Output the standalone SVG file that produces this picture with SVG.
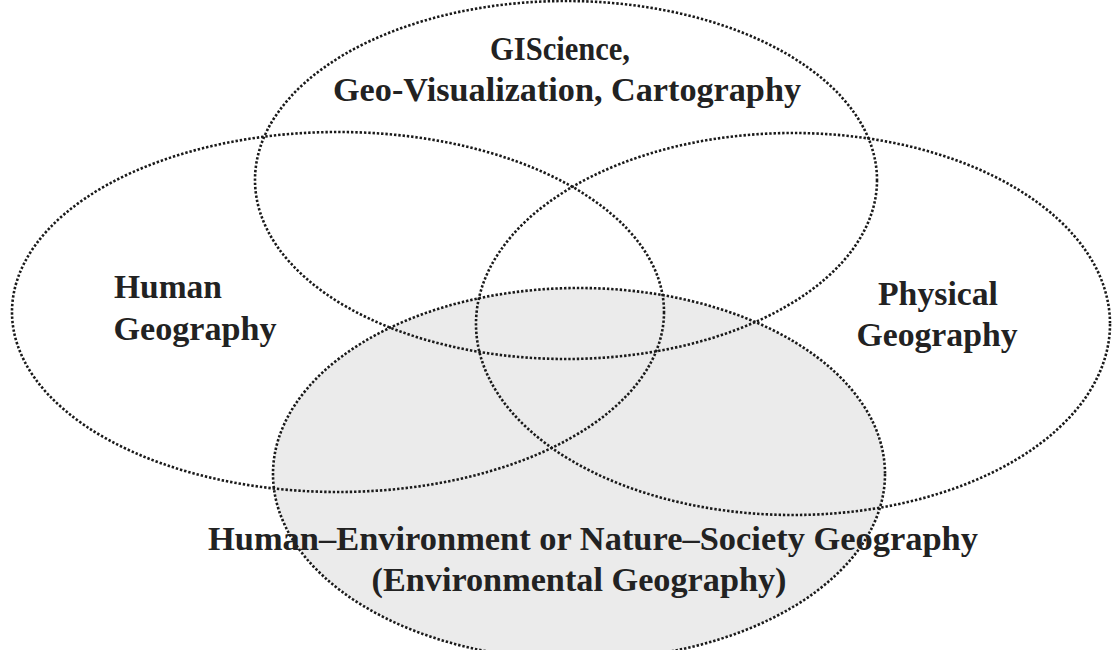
<svg xmlns="http://www.w3.org/2000/svg" width="1113" height="650" viewBox="0 0 1113 650">
<style>
.ring{fill:none;stroke:#1a1a1a;stroke-width:2.6;stroke-dasharray:2.4 1.9}
.shaded{fill:#ebebeb}
.lbl{font-family:"Liberation Serif","Times New Roman",serif;font-weight:bold;font-size:33px;fill:#222;text-anchor:middle}
</style>
<rect width="1113" height="650" fill="#fff"/>
<g id="node-environmental">
<ellipse class="shaded" cx="579" cy="474" rx="306" ry="186"/>
<ellipse class="ring" cx="579" cy="474" rx="306" ry="186"/>
<text class="lbl" x="593" y="550" textLength="770" lengthAdjust="spacingAndGlyphs">Human–Environment or Nature–Society Geography</text>
<text class="lbl" x="579" y="591" textLength="415" lengthAdjust="spacingAndGlyphs">(Environmental Geography)</text>
</g>
<g id="node-giscience">
<ellipse class="ring" cx="566" cy="180" rx="311" ry="179"/>
<text class="lbl" x="560" y="60" textLength="140" lengthAdjust="spacingAndGlyphs">GIScience,</text>
<text class="lbl" x="567" y="101" textLength="468" lengthAdjust="spacingAndGlyphs">Geo-Visualization, Cartography</text>
</g>
<g id="node-human">
<ellipse class="ring" cx="338" cy="312" rx="326" ry="180"/>
<text class="lbl" x="168" y="298" textLength="108" lengthAdjust="spacingAndGlyphs">Human</text>
<text class="lbl" x="195" y="340" textLength="163" lengthAdjust="spacingAndGlyphs">Geography</text>
</g>
<g id="node-physical">
<ellipse class="ring" cx="793" cy="324" rx="317" ry="191"/>
<text class="lbl" x="938" y="305" textLength="120" lengthAdjust="spacingAndGlyphs">Physical</text>
<text class="lbl" x="937" y="346" textLength="161" lengthAdjust="spacingAndGlyphs">Geography</text>
</g>
<g id="connectors"/>
</svg>
